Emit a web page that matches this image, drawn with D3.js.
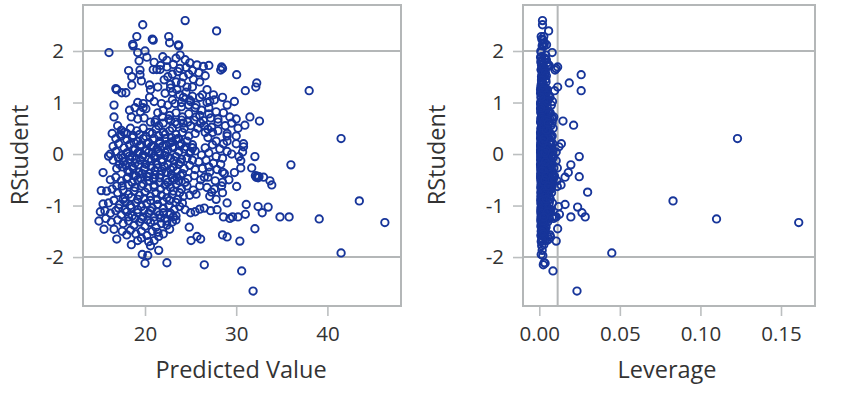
<!DOCTYPE html>
<html>
<head>
<meta charset="utf-8">
<script src="https://cdn.jsdelivr.net/npm/d3@7"></script>
<style>
  html, body { margin: 0; padding: 0; background: #fff; }
  text { font-family: "Open Sans", sans-serif; fill: #333; }
</style>
</head>
<body>
<div id="chart"></div>
<script>
const predicted = [
  24.4,19.75,27.85,16.05,28.4,28.5,28.3,30.05,32.25,38,
  32.15,31,32.55,31.5,30.95,41.5,36,32.05,43.5,46.3,
  39.1,41.5,31.85,30.6,34.8,35.8,33.5,32.85,32.3,33.9,
  27.3,30.5,30.5,29.8,33,33.7,30.05,30.8,30.8,30.7,
  31.7,32.1,32.2,32.3,32.4,32.5,31.1,31,30.2,29.6,
  32.05,28.5,29,30.4,32.4,20,22.4,26.5,15.5,14.95,
  19.7,20.3,21.5,20.6,18.5,16.9,16.6,15.1,15.4,18,
  19.6,21.5,22.7,24.85,25.05,25.7,26.1,25,26,15.4,
  15.2,16,16.4,16.6,16.6,16.9,17.45,17.9,16.8,18.55,
  18.55,19.6,20.5,18.2,19.45,19.45,20.9,21.3,21.65,22.4,
  19.1,20.8,20.9,22.6,22.7,23.65,23.7,18.65,18.7,19.2,
  20,21.95,19.35,23.4,23.85,24.4,24.9,25.7,26.4,27,
  22.5,23,23.6,24.2,24.8,25.3,22.8,23.4,24,24.6,
  25.2,26,26.8,27.5,22.2,23,23.8,24.5,25.2,26,
  26.8,27.6,28.5,29,29.8,21,21.8,22.5,23.3,24,
  24.8,25.5,26.2,27,27.8,28.6,29.3,30,19.2,19.8,
  18.3,18.9,19.5,20.1,21.1,21.4,22,22.7,23.4,24.1,
  24.8,25.6,26.4,27.2,28,28.8,29.5,30.2,18.5,19.2,
  19.9,20.6,22,22.8,23.5,24.2,25,25.8,26.5,27.3,
  28,29,30,17,17.7,18.4,19.1,19.8,20.5,21.2,
  22,22.7,23.4,24.1,24.8,25.5,26.6,26.9,27.8,28.6,
  16.8,17.4,18,18.6,19.2,19.8,20.4,21,21.6,22.2,
  22.8,23.4,24,24.6,25.2,25.2,26.6,27.4,28.2,29,
  16.5,17.1,17.7,18.3,18.9,19.5,20.1,20.7,21.3,21.9,
  22.5,23.1,23.7,24.3,24.9,25.5,26.2,27,27.8,28.5,
  16.2,16.8,17.4,18,18.6,19.2,19.8,20.4,21,21.6,
  22.2,22.8,23.4,24,24.6,25.2,25.9,26.7,27.5,28.3,
  16.5,17.1,17.7,18.3,18.9,19.5,20.1,20.7,21.3,21.9,
  22.5,23.1,23.7,24.3,24.9,25.5,26.3,27.1,27.9,28.7,
  16.9,17.5,18.1,18.7,19.3,19.9,20.5,21.1,21.7,22.3,
  22.9,23.5,24.1,24.7,25.4,26.1,26.9,27.7,28.5,29.2,
  16.2,16.8,17.4,18,18.6,19.2,19.8,20.4,21,21.6,
  22.2,22.8,23.4,24,24.6,25.3,26,26.8,27.6,28.4,
  15.8,16.4,17,17.6,18.2,18.8,19.4,20,20.6,21.2,
  21.8,22.4,23,23.6,24.2,24.9,25.6,16,16.6,17.2,
  17.8,18.4,19,19.6,20.2,20.8,21.4,22,22.6,23.2,
  23.8,24.4,15.6,16.2,16.8,17.4,18,18.6,19.2,19.8,
  20.4,21,21.6,22.2,22.8,23.4,15.7,16.3,17,17.6,
  18.2,18.8,19.4,20,20.6,21.2,21.8,22.4,23,17.5,
  18.4,19,19.6,20.2,20.8,21.4,22,19.2,20.4,21,
  17.3,18,18.7,19.4,20.1,20.8,21.5,22.2,22.9,23.6,
  17.6,18.3,19,19.7,20.4,21.1,21.8,22.5,23.2,23.9,
  17.2,17.9,18.6,19.3,20,20.7,21.4,22.1,22.8,23.5,
  17.5,18.2,18.9,19.6,20.3,21,21.7,22.4,23.1,23.8,
  17.8,18.5,19.2,19.9,20.6,21.3,22,22.7,23.4,24.1,
  17.1,17.8,18.5,19.2,19.9,20.6,21.3,22,22.7,23.4,
  18.7,19.4,20.1,20.8,21.5,22.2,23,23.8,24.5,25.2,
  26.5,27.2,27.9,28.6,29.3,27.1,27.8,28.5,29,25.5,
  23,24,25,26,27,28,29,25,26.9,27.4,
  29.5,30.3,30,29,28.5,27,26.5,24.3,23,21.5,
  18.1,18.8,19.5,20.2,20.9,21.6,22.3,23,23.7,24.4,
  17.6,18.3,19,19.7,20.4,21.1,21.8,22.5,23.2,23.9,
  18.1,18.8,19.5,20.2,20.9,21.6,22.3,23,23.7,17.4,
  18.2,18.9,19.6,20.3,21,21.7,22.4,23.1,16.9,17.6,
  20.2,21,21.7,22.4,23.1,23.8,24.5,25.2,25.9,26.6,
  20.6,21.4,22.1,22.8,23.5,24.2,24.9,25.6,26.3,27.1,
  19.8,20.5,21.2,21.9,22.6,23.3,24,24.7,25.4,26.1
];
const rstudent = [
  2.59,2.51,2.39,1.97,1.69,1.66,1.63,1.54,1.38,1.23,
  1.3,1.23,.64,.72,.56,.3,-.21,-.05,-.91,-1.33,
  -1.26,-1.92,-2.66,-2.27,-1.22,-1.22,-1.03,-1.14,-.44,-.6,
  -.74,-.13,-.27,-.36,-.45,-.52,-.63,.14,.2,.04,
  -.27,-.42,-.45,-.43,-.46,-.44,-.98,-1.17,-1.22,-1.22,
  -1.45,-1.57,-1.61,-1.69,-1.02,-2.12,-2.11,-2.15,-1.46,-1.3,
  -1.95,-1.97,-1.87,-1.78,-1.76,-1.65,-1.46,-1.12,-.97,-1.57,
  -1.63,-1.6,-1.46,-1.42,-1.68,-1.6,-1.65,-1.14,-1.07,-.36,
  -.71,-.04,.4,.95,.72,1.25,1.19,1.19,1.27,1.34,
  1.5,1.42,1.34,1.62,1.63,1.54,1.64,1.64,1.64,1.69,
  2.28,2.23,2.21,2.28,2.16,2.12,2.1,2.13,2.1,1.97,
  2,1.89,1.81,1.86,1.92,1.83,1.77,1.73,1.7,1.72,
  1.5,1.55,1.6,1.5,1.55,1.45,1.35,1.4,1.38,1.3,
  1.3,1.4,1.25,1.15,1.18,1.2,1.15,1.2,1.12,1.1,
  1,1.05,1.1,.95,1.02,1.02,.98,.95,.98,.92,
  .95,.9,.85,.9,.82,.8,.72,.68,1,.98,
  .85,.9,.82,.88,.62,.8,.85,.75,.8,.72,
  .78,.72,.65,.7,.62,.55,.6,.5,.72,.68,
  .7,.62,.6,.65,.58,.6,.55,.5,.55,.52,
  .45,.4,.35,.55,.42,.5,.45,.5,.42,.48,
  .42,.45,.38,.42,.35,.4,.42,.32,.25,.2,
  .3,.35,.28,.32,.25,.3,.22,.3,.25,.3,
  .22,.28,.2,.25,.18,.12,.12,.18,.1,.05,
  .15,.2,.12,.18,.1,.15,.08,.15,.1,.15,
  .08,.12,.05,.1,.02,.06,-.02,.02,-.05,-.08,
  0,.05,-.03,.02,-.05,.02,-.02,.03,-.04,.01,
  -.03,-.08,-.05,-.1,-.08,-.12,-.15,-.12,-.18,-.2,
  -.12,-.08,-.15,-.1,-.18,-.12,-.2,-.13,-.2,-.15,
  -.2,-.25,-.2,-.28,-.22,-.3,-.28,-.35,-.3,-.38,
  -.28,-.25,-.32,-.28,-.35,-.3,-.38,-.32,-.4,-.35,
  -.4,-.45,-.38,-.48,-.42,-.5,-.45,-.52,-.55,-.5,
  -.5,-.45,-.52,-.48,-.55,-.5,-.58,-.52,-.6,-.55,
  -.6,-.65,-.58,-.68,-.62,-.7,-.62,-.65,-.68,-.62,
  -.72,-.68,-.75,-.7,-.78,-.72,-.8,-.74,-.82,-.76,
  -.8,-.85,-.78,-.88,-.82,-.8,-.78,-.95,-.9,-.98,
  -.92,-1,-.95,-1.02,-.96,-1.05,-.98,-1.05,-1,-1.08,
  -1.02,-1.08,-1.1,-1.15,-1.1,-1.18,-1.12,-1.2,-1.14,-1.22,
  -1.15,-1.22,-1.18,-1.25,-1.15,-1.28,-1.25,-1.32,-1.28,-1.35,
  -1.3,-1.38,-1.32,-1.4,-1.33,-1.42,-1.35,-1.38,-1.32,-1.5,
  -1.48,-1.55,-1.5,-1.58,-1.5,-1.52,-1.55,-1.68,-1.7,-1.68,
  .38,.4,.36,.38,.34,.4,.36,.38,.32,.3,
  -.07,-.04,-.1,-.06,-.1,-.07,-.11,-.06,-.13,-.16,
  -.2,-.22,-.24,-.21,-.26,-.23,-.27,-.24,-.3,-.33,
  -.62,-.6,-.65,-.62,-.66,-.64,-.68,-.72,-.72,-.75,
  -.85,-.84,-.88,-.86,-.9,-.88,-.92,-.9,-.94,-.95,
  -1.05,-1.08,-1.04,-1.08,-1.1,-1.1,-1.12,-1.14,-1.18,-1.2,
  .08,.04,.06,.02,.05,.03,.14,.16,.14,.12,
  -1.05,-1.1,-1.08,-1.22,-1.25,-.82,-.88,-.75,-.95,-1.12,
  1.05,1,1.02,.75,.78,.68,.35,.05,.48,.42,
  0,-.05,.2,.25,-.35,-.25,-.45,.5,.5,.55,
  -.45,-.42,-.47,-.44,-.48,-.46,-.5,-.47,-.52,-.55,
  -.15,-.35,-.42,-.38,-.44,-.4,-.33,-.55,-.5,-.42,
  .02,.22,.18,.2,.16,.2,.18,.24,.3,.46,
  -1.22,-1.25,-1.26,-1.28,-1.3,-1.24,-1.3,-1.22,-.62,-.88,
  1.88,1.78,1.72,1.82,1.74,1.66,1.68,1.62,1.58,1.52,
  1.25,1.3,1.44,1.28,1.25,1.1,1.05,.95,1.15,1.02,
  .9,1.1,.66,.72,.68,.62,.66,.62,.66,.6
];
const leverage = [
  .002,.002,.0058,.008,.0114,.0105,.0098,.026,.0186,.026,
  .0114,.0095,.0147,.009,.0213,.123,.0196,.0248,.083,.161,
  .11,.045,.0234,.0085,.0196,.0285,.0238,.0265,.0248,.0135,
  .03,.0105,.0112,.018,.016,.011,.0112,.0122,.0137,.0105,
  .009,.008,.009,.0095,.0085,.008,.016,.0125,.0105,.0095,
  .0114,.0066,.007,.0105,.012,.0036,.003,.0025,.002,.004,
  .0012,.0022,.0018,.0015,.0028,.004,.0035,.0045,.003,.0022,
  .0016,.0028,.0032,.0042,.0048,.0052,.006,.0055,.0062,.0048,
  .0042,.003,.0035,.0028,.0032,.004,.0026,.0022,.0038,.0018,
  .0025,.0014,.0016,.0032,.0012,.0018,.0012,.0015,.002,.0025,
  .0012,.0016,.0024,.0028,.0032,.0045,.003,.0022,.0018,.0012,
  .001,.0014,.0012,.0036,.004,.0044,.0048,.0052,.0056,.0062,
  .0014,.0018,.0022,.0028,.0034,.004,.0012,.0016,.0022,.0028,
  .0034,.0042,.005,.0058,.0008,.0012,.0018,.0024,.003,.0038,
  .0046,.0056,.0066,.0075,.0082,.001,.0008,.0012,.0016,.0022,
  .0026,.0034,.0042,.005,.0058,.0068,.0078,.0085,.0014,.0009,
  .0024,.0016,.001,.0008,.0012,.001,.0014,.0018,.0022,.0026,
  .0032,.0038,.0046,.0054,.0062,.0072,.008,.0086,.0022,.0012,
  .001,.0008,.0012,.0016,.0018,.0024,.003,.0036,.0042,.005,
  .0058,.0068,.008,.0042,.0034,.0024,.0016,.001,.0008,.0012,
  .0014,.0018,.0022,.0028,.0034,.0042,.0048,.0054,.0064,.0072,
  .0046,.0036,.0028,.0018,.0012,.0008,.001,.0012,.0016,.0018,
  .0022,.0028,.0034,.004,.0046,.0052,.006,.0068,.0076,.0084,
  .0048,.004,.0032,.0024,.0016,.001,.0008,.001,.0012,.0016,
  .002,.0026,.0032,.0038,.0044,.0052,.006,.0068,.0076,.0084,
  .0056,.0046,.0036,.0028,.002,.0014,.001,.0008,.001,.0014,
  .0018,.0024,.003,.0036,.0042,.005,.0058,.0066,.0074,.0082,
  .0052,.0044,.0034,.0026,.0018,.0012,.0008,.001,.0012,.0016,
  .002,.0024,.003,.0036,.0044,.0052,.006,.0068,.0076,.0084,
  .0048,.004,.003,.0022,.0016,.001,.0009,.0011,.0013,.0018,
  .0024,.003,.0036,.0044,.0052,.006,.0066,.0072,.008,.0086,
  .0058,.005,.004,.003,.0022,.0016,.0012,.001,.0012,.0014,
  .002,.0026,.0032,.004,.0048,.0056,.0062,.0068,.0074,.008,
  .0062,.0054,.0044,.0036,.0028,.002,.0014,.001,.001,.0012,
  .0016,.002,.0026,.0034,.0042,.005,.0056,.0062,.0052,.0044,
  .0034,.0026,.002,.0014,.001,.001,.0014,.0018,.0024,.003,
  .0038,.0046,.0068,.0058,.005,.004,.0032,.0024,.0016,.0012,
  .001,.0012,.0016,.0022,.003,.0038,.0062,.0052,.0044,.0036,
  .0028,.002,.0014,.001,.0012,.0016,.0022,.0028,.0034,.0036,
  .0028,.0018,.0012,.001,.0014,.002,.0026,.0016,.0012,.0018,
  .0042,.003,.0022,.0014,.001,.0009,.0011,.0015,.002,.0026,
  .0038,.0028,.002,.0012,.0009,.0011,.0015,.0021,.0027,.0033,
  .0044,.0034,.0024,.0016,.001,.0009,.0013,.0019,.0025,.0031,
  .0036,.0028,.002,.0014,.001,.0011,.0015,.0021,.0029,.0035,
  .0032,.0024,.0018,.0012,.0009,.0013,.0017,.0023,.0029,.0037,
  .0038,.003,.0022,.0016,.0012,.001,.0014,.002,.0026,.0032,
  .002,.0014,.001,.0012,.0016,.002,.0026,.0032,.0038,.0044,
  .0056,.0064,.0072,.008,.0088,.0062,.0068,.0076,.0082,.005,
  .0026,.0034,.0042,.005,.0058,.0066,.0074,.0044,.0054,.006,
  .0082,.0088,.0084,.0074,.007,.006,.0056,.003,.0022,.0014,
  .0018,.0012,.0009,.0011,.0016,.0024,.0032,.004,.0048,.0056,
  .0038,.003,.0022,.0014,.001,.0012,.0018,.0026,.0034,.0042,
  .0034,.0026,.0018,.0012,.0009,.0011,.0017,.0023,.0031,.0044,
  .0022,.0016,.0012,.001,.0012,.0016,.0022,.0028,.0056,.0044,
  .0008,.001,.0014,.0018,.0022,.0026,.003,.0034,.0038,.0044,
  .0008,.001,.0014,.0018,.0022,.0026,.003,.0036,.0042,.005,
  .0009,.001,.0012,.0016,.0022,.0028,.0034,.004,.0046,.0054
];
const rTicks = [-2, -1, 0, 1, 2];
const predictedTicks = [20, 30, 40];
const leverageTicks = [0, 0.05, 0.10, 0.15];
const rRefLines = [-2, 2];
const leverageCut = 0.0114;

const width = 842, height = 394;
const plotTop = 5, plotBottom = 306;
const frameColor = "#b4b7b8", tickColor = "#bcbfc0", markColor = "#17359a";

const svg = d3.select("#chart").append("svg")
  .attr("width", width)
  .attr("height", height)
  .style("display", "block");

const y = d3.scaleLinear().domain([-2.95, 2.893]).range([plotBottom, plotTop]);

function panel(values, x, ticks, format, title, rotatedX, titleCx) {
  const [left, right] = x.range();

  svg.append("g")
    .attr("transform", `translate(${left},0)`)
    .call(d3.axisLeft(y).tickValues(rTicks).tickSize(10).tickPadding(9).tickFormat(d => String(d)))
    .call(g => g.select(".domain").remove())
    .call(g => g.selectAll("line").attr("stroke", tickColor).attr("stroke-width", 1.6))
    .call(g => g.selectAll("text").attr("font-size", 20.5).attr("font-family", null));

  svg.append("g")
    .attr("transform", `translate(0,${plotBottom})`)
    .call(d3.axisBottom(x).tickValues(ticks).tickSize(10).tickPadding(10).tickFormat(format))
    .call(g => g.select(".domain").remove())
    .call(g => g.selectAll("line").attr("stroke", tickColor).attr("stroke-width", 1.6))
    .call(g => g.selectAll("text").attr("font-size", 20.5).attr("font-family", null));

  // reference lines
  svg.append("g").selectAll("line")
    .data(rRefLines)
    .enter()
    .append("line")
    .attr("x1", left)
    .attr("x2", right)
    .attr("y1", d => y(d))
    .attr("y2", d => y(d))
    .attr("stroke", frameColor)
    .attr("stroke-width", 2);

  svg.append("rect")
    .attr("x", left)
    .attr("y", plotTop)
    .attr("width", right - left)
    .attr("height", plotBottom - plotTop)
    .attr("fill", "none")
    .attr("stroke", frameColor)
    .attr("stroke-width", 2);

  svg.append("g").selectAll("circle")
    .data(values)
    .enter()
    .append("circle")
    .attr("cx", d => x(d))
    .attr("cy", (d, i) => y(rstudent[i]))
    .attr("r", 3.7)
    .attr("fill", "none")
    .attr("stroke", markColor)
    .attr("stroke-width", 1.9);

  svg.append("text")
    .attr("x", titleCx)
    .attr("y", 378)
    .attr("font-size", 23.5)
    .style("text-anchor", "middle")
    .text(title);

  svg.append("text")
    .attr("transform", "rotate(-90)")
    .attr("x", -155)
    .attr("y", rotatedX)
    .attr("font-size", 23.5)
    .style("text-anchor", "middle")
    .text("RStudent");
}

const xPred = d3.scaleLinear().domain([13.2, 48.07]).range([83, 401]);
const xLev = d3.scaleLinear().domain([-0.0101, 0.1711]).range([523, 815]);

panel(predicted, xPred, predictedTicks, d3.format("d"), "Predicted Value", 28, 241);

svg.append("line")
  .attr("x1", xLev(leverageCut))
  .attr("x2", xLev(leverageCut))
  .attr("y1", plotTop)
  .attr("y2", plotBottom)
  .attr("stroke", frameColor)
  .attr("stroke-width", 2);

panel(leverage, xLev, leverageTicks, d3.format(".2f"), "Leverage", 445, 667);
</script>
</body>
</html>
